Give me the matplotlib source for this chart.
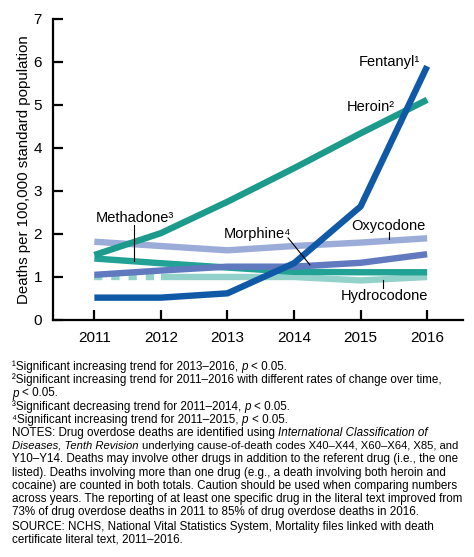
import matplotlib
matplotlib.use("Agg")
import matplotlib.pyplot as plt

plt.rcParams['font.family'] = ['Liberation Sans', 'DejaVu Sans']

years = [2011, 2012, 2013, 2014, 2015, 2016]
oxycodone = [1.82, 1.72, 1.62, 1.72, 1.80, 1.90]
morphine = [1.05, 1.15, 1.24, 1.24, 1.33, 1.53]
methadone = [1.43, 1.32, 1.22, 1.12, 1.11, 1.11]
hydrocodone = [1.00, 1.00, 1.00, 1.00, 0.92, 1.00]
heroin = [1.51, 2.02, 2.75, 3.53, 4.34, 5.12]
fentanyl = [0.52, 0.52, 0.62, 1.32, 2.64, 5.90]

c_fent = '#1059a6'
c_her = '#1c9a8b'
c_meth = '#21a294'
c_oxy = '#9cacd9'
c_mor = '#6179bf'
c_hyd = '#92d2ca'

fig = plt.figure(figsize=(4.74, 5.57), dpi=100)
ax = fig.add_axes([0.112, 0.4255, 0.865, 0.5405])
lw = 4.6
ax.plot(years, oxycodone, color=c_oxy, lw=lw, solid_capstyle='butt', zorder=2)
ax.plot(years[1:], hydrocodone[1:], color=c_hyd, lw=lw, solid_capstyle='butt', zorder=2)
ax.plot(years[:2], hydrocodone[:2], color=c_hyd, lw=lw, dashes=(1.3, 1.4), zorder=2)
ax.plot(years, methadone, color=c_meth, lw=lw, solid_capstyle='butt', zorder=3)
ax.plot(years, morphine, color=c_mor, lw=lw, solid_capstyle='butt', zorder=3)
ax.plot(years, heroin, color=c_her, lw=lw, solid_capstyle='butt', zorder=4)
ax.plot(years, fentanyl, color=c_fent, lw=lw, solid_capstyle='butt', zorder=5)

ax.set_xlim(2010.38, 2016.54)
ax.set_ylim(0, 7)
ax.set_xticks(years)
ax.set_yticks(range(0, 8))
for s in ['top', 'right']:
    ax.spines[s].set_visible(False)
for s in ['left', 'bottom']:
    ax.spines[s].set_linewidth(1.6)
ax.tick_params(axis='both', direction='in', length=7, width=1.6, labelsize=11)
ax.tick_params(axis='y', pad=8)
ax.tick_params(axis='x', pad=8)
ax.set_ylabel('Deaths per 100,000 standard population', fontsize=10.8, labelpad=2)

fs = 10.5
ax.text(2015.9, 6.0, 'Fentanyl¹', ha='right', va='center', fontsize=fs)
ax.text(2015.52, 4.95, 'Heroin²', ha='right', va='center', fontsize=fs)
ax.text(2011.02, 2.37, 'Methadone³', ha='left', va='center', fontsize=fs)
ax.text(2012.94, 2.0, 'Morphine⁴', ha='left', va='center', fontsize=fs)
ax.text(2015.98, 2.19, 'Oxycodone', ha='right', va='center', fontsize=fs)
ax.text(2016.02, 0.56, 'Hydrocodone', ha='right', va='center', fontsize=fs)
ax.plot([2011.59, 2011.59], [2.21, 1.37], color='black', lw=0.8, zorder=6)
ax.plot([2013.91, 2014.24], [1.91, 1.28], color='black', lw=0.8, zorder=6)
ax.plot([2015.43, 2015.43], [2.05, 1.89], color='black', lw=0.8, zorder=6)
ax.plot([2015.34, 2015.34], [0.93, 0.74], color='black', lw=0.8, zorder=6)

# footnotes: each line is a list of (text, italic) segments
I = True
N = False
notes = [
    [('¹Significant increasing trend for 2013–2016,', N), ('p', I), ('< 0.05.', N)],
    [('²Significant increasing trend for 2011–2016 with different rates of change over time,', N)],
    [('p', I), ('< 0.05.', N)],
    [('³Significant decreasing trend for 2011–2014,', N), ('p', I), ('< 0.05.', N)],
    [('⁴Significant increasing trend for 2011–2015,', N), ('p', I), ('< 0.05.', N)],
    [('NOTES: Drug overdose deaths are identified using', N), ('International Classification of', I)],
    [('Diseases, Tenth Revision', I), ('underlying cause-of-death codes X40–X44, X60–X64, X85, and', N)],
    [('Y10–Y14. Deaths may involve other drugs in addition to the referent drug (i.e., the one', N)],
    [('listed). Deaths involving more than one drug (e.g., a death involving both heroin and', N)],
    [('cocaine) are counted in both totals. Caution should be used when comparing numbers', N)],
    [('across years. The reporting of at least one specific drug in the literal text improved from', N)],
    [('73% of drug overdose deaths in 2011 to 85% of drug overdose deaths in 2016.', N)],
    [('SOURCE: NCHS, National Vital Statistics System, Mortality files linked with death', N)],
    [('certificate literal text, 2011–2016.', N)],
]
ys = [366.7, 380.2, 393.3, 406.5, 419.5, 432.5, 445.8, 459.0, 472.4, 485.6, 499.0, 512.3, 526.5, 539.8]
nfs = 8.35
xmax = 462.0
renderer = fig.canvas.get_renderer()

def width_px(s, size, style='normal'):
    t = fig.text(0, 0, s, fontsize=size, style=style)
    w = t.get_window_extent(renderer).width
    t.remove()
    return w

def line_width(segs, size):
    sp = width_px('a a', size) - width_px('aa', size)
    return sum(width_px(s, size, 'italic' if it else 'normal') for s, it in segs) + sp * (len(segs) - 1)

for segs, y in zip(notes, ys):
    nat = line_width(segs, nfs)
    size = nfs if 12 + nat <= xmax else nfs * (xmax - 12) / nat
    sp = width_px('a a', size) - width_px('aa', size)
    x = 12.0
    ybase = 1 - (y + 3.2) / 557
    for s, it in segs:
        st = 'italic' if it else 'normal'
        t = fig.text(x / 474, ybase, s, ha='left', va='baseline', fontsize=size, style=st)
        x += t.get_window_extent(renderer).width + sp

fig.savefig('out.png', dpi=100)
